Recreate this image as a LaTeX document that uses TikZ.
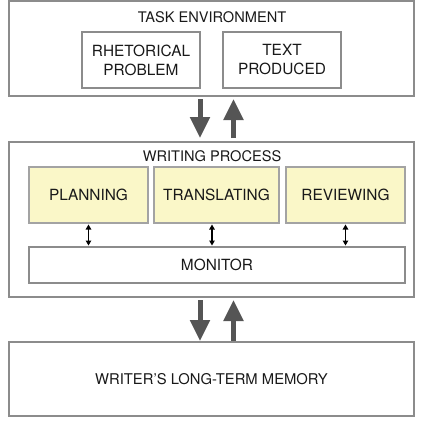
\documentclass[tikz,border=0pt]{standalone}
\usepackage{fontspec}
\setmainfont{TeX Gyre Heros}
\usetikzlibrary{arrows.meta}
\definecolor{boxgray}{RGB}{140,140,140}
\definecolor{arrowgray}{RGB}{85,85,85}
\definecolor{paleyellow}{RGB}{250,247,200}
\definecolor{txt}{RGB}{25,25,25}
\begin{document}
\begin{tikzpicture}[x=1pt,y=-1pt,
  outerbox/.style={draw=boxgray,line width=2pt,inner sep=0pt,outer sep=0pt},
  innerbox/.style={draw=boxgray,line width=2pt,inner sep=0pt,outer sep=0pt,
    font=\fontsize{15.4}{19}\selectfont,text=txt,align=center},
  procbox/.style={innerbox,fill=paleyellow,draw=boxgray!80},
  titletext/.style={font=\fontsize{14.6}{17}\selectfont,text=txt,inner sep=0pt},
  bigarrow/.style={draw=arrowgray,line width=5pt,-{Triangle[width=19pt,length=21pt]}},
  smallarrow/.style={draw=black,line width=1.2pt,{Triangle[width=5.5pt,length=5pt]}-{Triangle[width=5.5pt,length=5pt]}}
]
\useasboundingbox (0,0) rectangle (424,424);
% outer boxes
\node[outerbox,minimum width=405pt,minimum height=95pt] (task) at (211.5,48.5) {};
\node[outerbox,minimum width=405pt,minimum height=155pt] (writing) at (211.5,219.5) {};
\node[outerbox,minimum width=405pt,minimum height=74pt,
  font=\fontsize{14.8}{17}\selectfont,text=txt] (memory) at (211.5,379) {WRITER'S LONG-TERM MEMORY};
% titles
\node[titletext] (tasktitle) at (212,17) {TASK ENVIRONMENT};
\node[titletext] (writetitle) at (212,156) {WRITING PROCESS};
% task inner boxes
\node[innerbox,minimum width=118pt,minimum height=56pt] (rhet) at (141,60) {RHETORICAL\\PROBLEM};
\node[innerbox,minimum width=118pt,minimum height=56pt] (textp) at (282,60) {TEXT\\PRODUCED};
% process boxes
\node[procbox,minimum width=119pt,minimum height=56pt] (plan) at (88.5,195) {PLANNING};
\node[procbox,minimum width=125pt,minimum height=56pt] (trans) at (216.5,195) {TRANSLATING};
\node[procbox,minimum width=119pt,minimum height=56pt] (rev) at (345.5,195) {REVIEWING};
\node[innerbox,minimum width=376pt,minimum height=36pt] (monitor) at (217,265) {MONITOR};
% small arrows
\draw[smallarrow] ([yshift=-1.5pt]plan.south) -- ([yshift=1.5pt]monitor.north -| plan.south);
\draw[smallarrow] ([xshift=-4.5pt,yshift=-1.5pt]trans.south) -- ([yshift=1.5pt]monitor.north -| 212,0);
\draw[smallarrow] ([yshift=-1.5pt]rev.south) -- ([yshift=1.5pt]monitor.north -| rev.south);
% big arrows
\draw[bigarrow] ([xshift=-11.5pt,yshift=-3pt]task.south) -- ([xshift=-11.5pt,yshift=4pt]writing.north);
\draw[bigarrow] ([xshift=22pt,yshift=4pt]writing.north) -- ([xshift=22pt,yshift=-3pt]task.south);
\draw[bigarrow] ([xshift=-11.5pt,yshift=-3pt]writing.south) -- ([xshift=-11.5pt,yshift=1pt]memory.north);
\draw[bigarrow] ([xshift=22pt,yshift=1pt]memory.north) -- ([xshift=22pt,yshift=-3pt]writing.south);
\end{tikzpicture}
\end{document}
